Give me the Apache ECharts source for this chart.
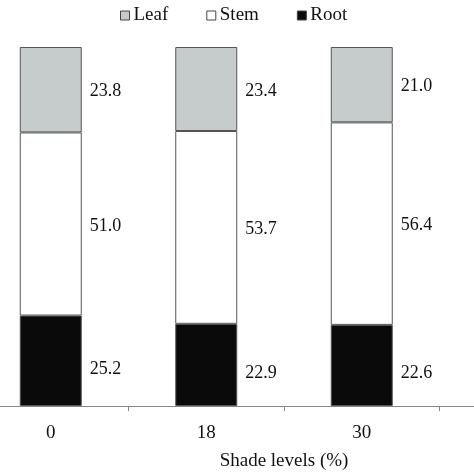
<!DOCTYPE html>
<html><head><meta charset="utf-8">
<script src="https://cdn.jsdelivr.net/npm/echarts@6/dist/echarts.min.js"></script>
<style>html,body{margin:0;padding:0;background:#fff}#c{width:474px;height:474px}</style>
</head><body><div id="c"></div>
<script>
const categories = ['0', '18', '30', ''];
const leaf = [23.8, 23.4, 21.0];
const stem = [51.0, 53.7, 56.4];
const root = [25.2, 22.9, 22.6];
const legendNames = ['Leaf', 'Stem', 'Root'];

const font = 'Liberation Serif, Times New Roman, serif';
const colors = { Leaf: '#c6cccb', Stem: '#ffffff', Root: '#0a0a0a' };
function mk(name, data, off) {
  return {
    name, type: 'bar', stack: 'a', data, barWidth: 62,
    itemStyle: { color: colors[name], borderColor: '#555', borderWidth: 1 },
    label: { show: true, position: 'right', distance: 8, offset: off,
      formatter: p => p.value.toFixed(1), fontFamily: font, fontSize: 18, color: '#111' }
  };
}
const chart = echarts.init(document.getElementById('c'));
chart.setOption({
  animation: false,
  textStyle: { fontFamily: font },
  legend: {
    top: 1, left: 115, itemWidth: 9, itemHeight: 9, itemGap: 38, icon: 'rect',
    textStyle: { fontFamily: font, fontSize: 19, color: '#111', padding: [0, 0, 0, -1] },
    data: legendNames.map(n => ({ name: n, itemStyle: { color: colors[n], borderColor: '#444', borderWidth: 1 } }))
  },
  grid: { left: -27, width: 622, top: 47, bottom: 68, containLabel: false, outerBoundsMode: 'none' },
  xAxis: {
    type: 'category', data: categories,
    axisLine: { lineStyle: { color: '#888', width: 1 } },
    axisTick: { show: true, length: 5, lineStyle: { color: '#888' } },
    axisLabel: { fontFamily: font, fontSize: 19, color: '#111', margin: 18 },
    name: 'Shade levels (%)', nameLocation: 'middle', nameGap: 46,
    nameTextStyle: { fontFamily: font, fontSize: 19, color: '#111' }
  },
  yAxis: { type: 'value', min: 0, max: 100, show: false },
  series: [mk('Root', root, [0, 8]), mk('Stem', stem, [0, 2]), mk('Leaf', leaf, [0, 2])]
});
</script></body></html>
